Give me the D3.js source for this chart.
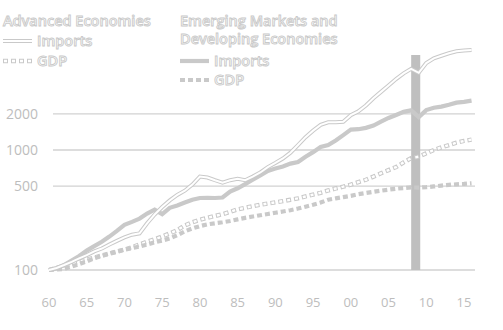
<!DOCTYPE html>
<html>
<head>
<meta charset="utf-8">
<script src="https://cdn.jsdelivr.net/npm/d3@7"></script>
<style>
  body { margin: 0; background: #fff; }
  svg text { font-family: 'Open Sans', sans-serif; }
</style>
</head>
<body>
<svg id="chart" width="503" height="330"></svg>
<script>
const years = d3.range(1960, 2017);

// index, 1960 = 100
const advImports = [100, 104, 110, 117, 125, 133, 143, 151, 163, 175,
  187, 197, 202, 245, 290, 335, 380, 422, 458, 515,
  600, 590, 560, 535, 560, 575, 560, 600, 650, 720,
  780, 850, 950, 1100, 1280, 1450, 1620, 1700, 1700, 1720,
  1950, 2100, 2350, 2700, 3050, 3450, 3900, 4350, 4750, 4400,
  5300, 5800, 6100, 6400, 6650, 6750, 6800];
const advGDP = [100, 104, 108, 112, 117, 122, 127, 132, 137, 142,
  148, 155, 163, 172, 180, 190, 202, 215, 235, 250,
  262, 272, 282, 292, 305, 320, 330, 340, 350, 358,
  366, 375, 385, 395, 410, 425, 440, 460, 478, 495,
  515, 540, 565, 600, 640, 680, 720, 790, 855, 880,
  940, 1000, 1050, 1100, 1150, 1190, 1220];
const emImports = [100, 103, 110, 120, 131, 145, 158, 172, 190, 212,
  238, 252, 268, 295, 318, 292, 330, 345, 365, 385,
  398, 400, 398, 402, 450, 480, 520, 565, 615, 670,
  700, 730, 770, 795, 880, 960, 1060, 1100, 1200, 1330,
  1480, 1490, 1530, 1600, 1720, 1850, 1960, 2080, 2140, 1880,
  2150, 2250, 2300, 2380, 2480, 2520, 2580];
const emGDP = [100, 101, 102, 107, 112, 118, 125, 131, 137, 143,
  148, 152, 157, 163, 170, 176, 183, 195, 210, 222,
  232, 240, 245, 250, 256, 264, 272, 279, 286, 293,
  300, 307, 315, 325, 337, 350, 365, 385, 395, 405,
  415, 428, 438, 448, 458, 467, 476, 482, 488, 486,
  490, 497, 505, 512, 518, 522, 528];

const yTicks = [100, 500, 1000, 2000];
const xTicks = d3.range(1960, 2016, 5);
const recession = [2008, 2009.2];

const svg = d3.select('svg#chart');

// No Magic Number !
const gray = '#c9c9c9',
  textGray = '#bdbdbd',
  barGray = '#bfbfbf',
  gridLeft = 53,
  gridRight = 475;

const x = d3.scaleLinear().domain([1960, 2015]).range([49, 464]);
const y = d3.scaleLog().domain([100, 10000]).range([270, 30]);

drawGrid();
drawRecession();
drawSeries(advGDP, 'outlineDash');
drawSeries(emGDP, 'dash');
drawSeries(emImports, 'solid');
drawSeries(advImports, 'outline');
drawAxes();
drawLegend();

function drawGrid() {
  svg.append('g')
    .selectAll('line')
    .data(yTicks)
    .join('line')
    .attr('x1', gridLeft)
    .attr('x2', gridRight)
    .attr('y1', d => y(d))
    .attr('y2', d => y(d))
    .attr('stroke', '#d2d2d2')
    .attr('stroke-width', 1.3);
}

function drawRecession() {
  svg.append('rect')
    .attr('x', x(recession[0]))
    .attr('width', x(recession[1]) - x(recession[0]))
    .attr('y', 55)
    .attr('height', y(100) - 55)
    .attr('fill', barGray);
}

// the four line styles, used for both the chart and the legend
function strokeLine(g, path, type) {
  if (type === 'solid') {
    g.append('path').attr('d', path).attr('fill', 'none')
      .attr('stroke', gray).attr('stroke-width', 4.2);
  } else if (type === 'dash') {
    g.append('path').attr('d', path).attr('fill', 'none')
      .attr('stroke', gray).attr('stroke-width', 4.2)
      .attr('stroke-dasharray', '5,3');
  } else if (type === 'outline') {
    g.append('path').attr('d', path).attr('fill', 'none')
      .attr('stroke', gray).attr('stroke-width', 4);
    g.append('path').attr('d', path).attr('fill', 'none')
      .attr('stroke', '#fff').attr('stroke-width', 2);
  } else {
    g.append('path').attr('d', path).attr('fill', 'none')
      .attr('stroke', gray).attr('stroke-width', 4.4)
      .attr('stroke-dasharray', '5,3');
    g.append('path').attr('d', path).attr('fill', 'none')
      .attr('stroke', '#fff').attr('stroke-width', 2.4)
      .attr('stroke-dasharray', '3,5')
      .attr('stroke-dashoffset', -1);
  }
}

function drawSeries(values, type) {
  const line = d3.line()
    .x((d, i) => x(years[i]))
    .y(d => y(d));
  strokeLine(svg.append('g'), line(values), type);
}

function drawAxes() {
  svg.append('g')
    .selectAll('text')
    .data(yTicks)
    .join('text')
    .text(d => d)
    .attr('x', 38)
    .attr('y', d => y(d))
    .attr('dy', '0.35em')
    .attr('text-anchor', 'end')
    .attr('font-size', 14)
    .attr('fill', textGray);

  svg.append('g')
    .selectAll('text')
    .data(xTicks)
    .join('text')
    .text(d => String(d % 100).padStart(2, '0'))
    .attr('x', d => x(d))
    .attr('y', 302)
    .attr('dy', '0.35em')
    .attr('text-anchor', 'middle')
    .attr('font-size', 13)
    .attr('fill', textGray);
}

function hollowText(txt, tx, ty) {
  svg.append('text')
    .text(txt)
    .attr('x', tx)
    .attr('y', ty)
    .attr('font-size', 14.5)
    .attr('font-weight', 600)
    .attr('fill', '#fff')
    .attr('stroke', gray)
    .attr('stroke-width', 0.9);
}

function legendItem(type, label, lx, ly) {
  strokeLine(svg.append('g'), `M${lx},${ly}H${lx + 29}`, type);
  hollowText(label, lx + 34, ly + 5);
}

function drawLegend() {
  hollowText('Advanced Economies', 3, 26);
  legendItem('outline', 'Imports', 3, 41);
  legendItem('outlineDash', 'GDP', 3, 61);

  hollowText('Emerging Markets and', 180, 26);
  hollowText('Developing Economies', 180, 44);
  legendItem('solid', 'Imports', 180, 61);
  legendItem('dash', 'GDP', 180, 80);
}
</script>
</body>
</html>
